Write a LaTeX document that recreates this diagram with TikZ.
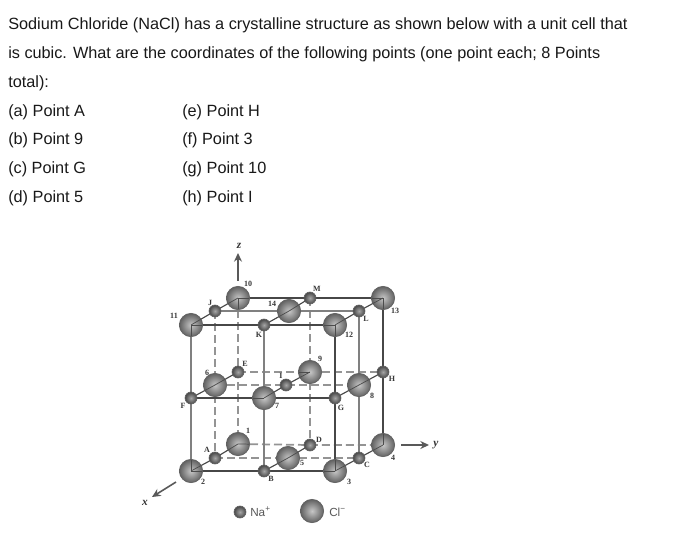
\documentclass[tikz,border=0pt]{standalone}
\usepackage{fontspec}
\setmainfont{Liberation Sans}
\newfontfamily\lblfont{Liberation Serif}
\usetikzlibrary{arrows.meta,calc}
\tikzset{
  txt/.style={anchor=base west,inner sep=0pt,font=\fontsize{12.2pt}{14pt}\selectfont,text=black!90},
  ion/.style={circle,inner sep=0pt,draw=black!62,line width=0.5pt,inner color=black!22,outer color=black!62},
  cl/.style={ion,minimum size=17.5pt},
  na/.style={ion,minimum size=9pt,inner color=black!35,outer color=black!72},
  solidedge/.style={draw=black!72,line width=0.85pt},
  greyedge/.style={draw=black!50,line width=1pt},
  dashedge/.style={draw=black!42,line width=1.3pt,dash pattern=on 6pt off 3pt},
  stroke/.style={draw=black!70,line width=0.55pt},
  lbl/.style={inner sep=0pt,font=\lblfont\bfseries\fontsize{6pt}{6pt}\selectfont,text=black!78},
  axisline/.style={draw=black!65,line width=1.2pt,-{Stealth[length=6.5pt,width=6pt]}},
  axlbl/.style={inner sep=0pt,font=\lblfont\bfseries\itshape\fontsize{8.5pt}{9pt}\selectfont,text=black!80},
  keytext/.style={inner sep=0pt,font=\fontsize{8.8pt}{9pt}\selectfont,text=black!65}
}
\begin{document}
\begin{tikzpicture}[x=0.75pt,y=-0.75pt]
\useasboundingbox (0,0) rectangle (700,539);
\fill[white] (0,0) rectangle (700,539);
% text
\node[txt] (t1) at (8,30) {Sodium Chloride (NaCl) has a crystalline structure as shown below with a unit cell that};
\node[txt] (t2) at (8,58) {is cubic. What are the coordinates of the following points (one point each; 8 Points};
\node[txt] (t3) at (8,87) {total):};
\node[txt] (a) at (8,116) {(a) Point A};
\node[txt] (b) at (8,144) {(b) Point 9};
\node[txt] (c) at (8,173) {(c) Point G};
\node[txt] (d) at (8,202) {(d) Point 5};
\node[txt] (e) at (182,116) {(e) Point H};
\node[txt] (f) at (182,144) {(f) Point 3};
\node[txt] (g) at (182,173) {(g) Point 10};
\node[txt] (h) at (182,202) {(h) Point I};
% coordinates
\coordinate (p11) at (191,325);\coordinate (pK) at (264,325);\coordinate (p12) at (335,325);
\coordinate (pJ) at (215,311);\coordinate (p14) at (289,311);\coordinate (pL) at (359,311);
\coordinate (p10) at (238,298);\coordinate (pM) at (310,298);\coordinate (p13) at (383,298);
\coordinate (pF) at (191,398);\coordinate (p7) at (264,398);\coordinate (pG) at (335,398);
\coordinate (p6) at (215,385);\coordinate (pI) at (286,385);\coordinate (p8) at (359,385);
\coordinate (pE) at (238,372);\coordinate (p9) at (310,372);\coordinate (pH) at (383,372);
\coordinate (p2) at (191,471);\coordinate (pB) at (264,471);\coordinate (p3) at (335,471);
\coordinate (pA) at (215,458);\coordinate (p5) at (288,458);\coordinate (pC) at (359,458);
\coordinate (p1) at (238,444);\coordinate (pD) at (310,445);\coordinate (p4) at (383,445);
% hidden dashed lines
\draw[dashedge] (p10)--(pE)--(p1);
\draw[dashedge] (pJ)--(p6)--(pA);
\draw[dashedge] (pM)--(p9)--(pD);
\draw[dashedge] (pE)--(p9)--(pH);
\draw[dashedge] (p6)--(pI)--(p8);
\draw[dashedge] (p1)--(pD)--(p4);
\draw[dashedge] (pA)--(p5)--(pC);
\draw[greyedge] (pL)--(p8)--(pC);
\draw[greyedge] (pK)--(p7)--(pB);
% solid lines
\draw[solidedge] (p10)--(pM)--(p13);
\draw[greyedge] (pJ)--(p14)--(pL);
\draw[solidedge] (p11)--(pK)--(p12);
\draw[solidedge] (p13)--(pH)--(p4);
\draw[solidedge] (p12)--(pG)--(p3);
\draw[greyedge] (p11)--(pF)--(p2);
\draw[solidedge] (pF)--(p7)--(pG);
\draw[solidedge] (p2)--(pB)--(p3);
% x-direction
\draw[solidedge] (p11)--(pJ)--(p10);
\draw[solidedge] (pK)--(p14)--(pM);
\draw[solidedge] (p12)--(pL)--(p13);
\draw[solidedge] (pF)--(p6)--(pE);
\draw[solidedge] (p7)--(pI)--(p9);
\draw[solidedge] (pG)--(p8)--(pH);
\draw[solidedge] (p2)--(pA)--(p1);
\draw[solidedge] (pB)--(p5)--(pD);
\draw[solidedge] (p3)--(pC)--(p4);
% ions
\foreach \n in {pM,pJ,pL,pK,pE,pF,pH,pG,pI,pA,pD,pC,pB}{\node[na] (n\n) at (\n) {};}
\foreach \n in {p10,p13,p14,p11,p12,p6,p9,p7,p8,p1,p5,p4,p2,p3}{\node[cl] (n\n) at (\n) {};}
% short strokes on the ions
\foreach \u/\v in {p11/pJ,p11/pK,p11/pF,p10/pJ,p10/pM,p10/pE,p14/pK,p14/pM,p12/pL,p12/pK,p12/pG,p13/pL,p13/pM,p13/pH,p6/pF,p6/pE,p7/pI,p7/pF,p9/pI,p9/pE,p8/pG,p8/pH,p2/pA,p2/pB,p2/pF,p1/pA,p1/pD,p5/pB,p5/pD,p3/pC,p3/pB,p3/pG,p4/pC,p4/pH}{
  \draw[stroke] (\u)--($(\u)!8.4pt!(\v)$);
}
% labels
\foreach \t/\x/\y in {10/248/284,J/210/303,14/272/304,M/317/289,11/174/316,K/259/335,L/366/319,12/349/335,13/395/311,E/245/364,6/207/373,9/320/359,H/392/379,F/183/406,7/277/406,G/341/408,8/372/396,I/281/376,1/248/431,A/207/450,D/319/440,5/302/463,C/367/465,2/203/482,B/271/479,3/349/482,4/393/458}{
  \node[lbl] (l\t) at (\x,\y) {\t};
}
% axes
\coordinate (zs) at (238,281);\coordinate (ze) at (238,253);
\coordinate (ys) at (401,445);\coordinate (ye) at (429,445);
\coordinate (xs) at (176,482);\coordinate (xe) at (152,497);
\draw[axisline] (zs)--(ze);
\draw[axisline] (ys)--(ye);
\draw[axisline] (xs)--(xe);
\node[axlbl] (lz) at (239,246) {z};
\node[axlbl] (ly) at (436,445) {y};
\node[axlbl] (lx) at (145,503) {x};
% key
\node[na] (kna) at (240,512) {};
\node[keytext,anchor=west] (tna) at (250,512) {Na\textsuperscript{+}};
\node[cl] (kcl) at (312,511) {};
\node[keytext,anchor=west] (tcl) at (329,512) {Cl\textsuperscript{−}};
\end{tikzpicture}
\end{document}
